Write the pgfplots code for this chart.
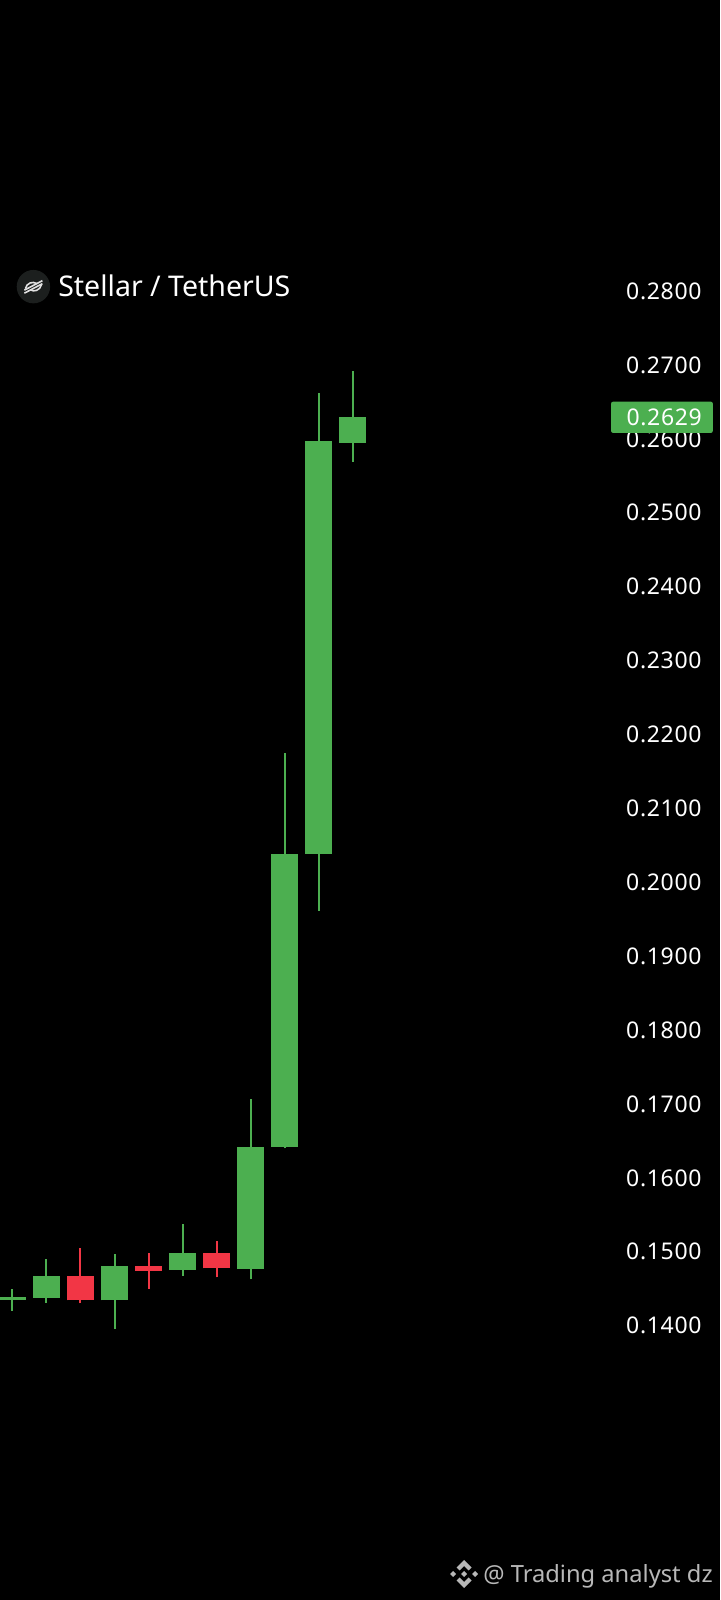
\documentclass[border=0pt]{standalone}
\usepackage{fontspec}
\setmainfont{Noto Sans}
\newfontfamily\tickf[LetterSpace=3]{Noto Sans}
\usepackage{pgfplots}
\usepackage{pgfplotstable}
\pgfplotsset{compat=1.18}
\definecolor{upc}{HTML}{4CAF50}
\definecolor{downc}{HTML}{F23645}
\definecolor{wm}{HTML}{B8B8B8}
\pgfplotstableread{
i bot top low high
0 0.14344 0.14388 0.14203 0.14497
1 0.14379 0.14673 0.14311 0.14899
3 0.14344 0.14808 0.13955 0.14974
5 0.14754 0.14980 0.14673 0.15372
7 0.14767 0.16418 0.14628 0.17068
8 0.16418 0.20383 0.16400 0.21750
9 0.20383 0.25972 0.19612 0.26625
10 0.25949 0.26292 0.25691 0.26919
}\upcandles
\pgfplotstableread{
i bot top low high
2 0.14344 0.14673 0.14303 0.15056
4 0.14740 0.14808 0.14497 0.14980
6 0.14777 0.14980 0.14655 0.15142
}\downcandles
\newcommand{\wick}[2]{\addplot[draw=none, no markers, forget plot, error bars/.cd, y dir=plus, y explicit, error mark=none, error bar style={line width=2pt, draw=#1}]
 table[x=i, y=low, y error plus expr=\thisrow{high}-\thisrow{low}] {#2};}
\newcommand{\body}[2]{\addplot[draw=none, no markers, forget plot, error bars/.cd, y dir=plus, y explicit, error mark=none, error bar style={line width=26.5pt, draw=#1}]
 table[x=i, y=bot, y error plus expr=\thisrow{top}-\thisrow{bot}] {#2};}
\begin{document}
\begin{tikzpicture}[x=1pt,y=1pt]
\begin{axis}[
 at={(0pt,0pt)}, anchor=south west,
 scale only axis, width=720pt, height=1600pt,
 xmin=-0.362, xmax=20.796, ymin=0.10288, ymax=0.31939,
 axis background/.style={fill=black},
 axis line style={draw=none},
 major tick length=0pt,
 xtick=\empty,
 ytick={0.14,0.15,0.16,0.17,0.18,0.19,0.20,0.21,0.22,0.23,0.24,0.25,0.26,0.27,0.28},
 yticklabel pos=right,
 y tick label style={anchor=east, xshift=-15pt, text=white, font=\tickf\fontsize{23}{26}\selectfont,
   /pgf/number format/.cd, fixed, fixed zerofill, precision=4, assume math mode=true},
 clip=true,
]
\wick{upc}{\upcandles}
\wick{downc}{\downcandles}
\body{upc}{\upcandles}
\body{downc}{\downcandles}
\end{axis}
% price tag
\fill[upc, rounded corners=2pt] (611pt,1600pt-401.7pt) rectangle (712.7pt,1600pt-433pt);
\node[anchor=east, text=white, font=\tickf\fontsize{23}{26}\selectfont, inner sep=0pt] at (702pt,1600pt-417.5pt) {0.2629};
% header
\fill[fill={rgb,255:red,28;green,31;blue,30}] (33.3pt,1600pt-286.7pt) circle (16.7pt);
\begin{scope}[shift={(33.3pt,1600pt-286.7pt)}, draw={rgb,255:red,225;green,225;blue,225}, line width=1.6pt]
\draw (-9pt,-3.5pt) -- (9pt,6pt);
\draw (-9pt,-6.5pt) -- (9pt,3pt);
\draw (-8pt,-2pt) arc[start angle=170, end angle=60, radius=7.5pt];
\draw (8pt,2pt) arc[start angle=-10, end angle=-120, radius=7.5pt];
\end{scope}
\node[anchor=west, text=white, font=\fontsize{28.5}{32}\selectfont, inner sep=0pt] at (58pt,1600pt-285.5pt) {Stellar / TetherUS};
% watermark
\begin{scope}[shift={(464pt,1600pt-1574pt)}, fill=wm]
\fill (0pt,14pt) -- (7.5pt,6.5pt) -- (4.5pt,3.5pt) -- (0pt,8pt) -- (-4.5pt,3.5pt) -- (-7.5pt,6.5pt) -- cycle;
\fill (0pt,-14pt) -- (7.5pt,-6.5pt) -- (4.5pt,-3.5pt) -- (0pt,-8pt) -- (-4.5pt,-3.5pt) -- (-7.5pt,-6.5pt) -- cycle;
\fill (0pt,3pt) -- (3pt,0pt) -- (0pt,-3pt) -- (-3pt,0pt) -- cycle;
\fill (-14pt,0pt) -- (-11pt,3pt) -- (-8pt,0pt) -- (-11pt,-3pt) -- cycle;
\fill (14pt,0pt) -- (11pt,3pt) -- (8pt,0pt) -- (11pt,-3pt) -- cycle;
\end{scope}
\node[anchor=west, text=wm, font=\fontsize{23.7}{28}\selectfont, inner sep=0pt] at (483pt,1600pt-1576pt) {@ Trading analyst dz};
\end{tikzpicture}
\end{document}
